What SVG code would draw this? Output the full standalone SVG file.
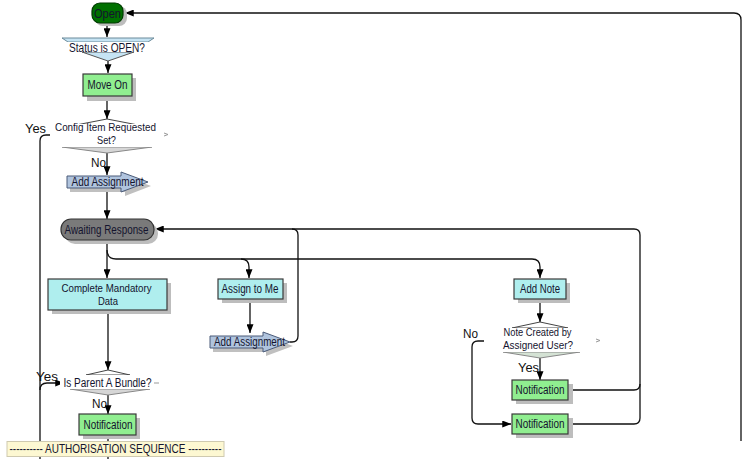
<svg xmlns="http://www.w3.org/2000/svg" width="747" height="459" viewBox="0 0 747 459">
<defs>
<marker id="ah" viewBox="0 0 10 8" refX="10" refY="4" markerWidth="9" markerHeight="7" orient="auto" markerUnits="userSpaceOnUse">
<path d="M0,0 L10,4 L0,8 Z" fill="#000"/>
</marker>
<style>
.bg{fill:#fff}
.c{fill:none;stroke:#111;stroke-width:1.3}
.ca{fill:none;stroke:#111;stroke-width:1.3;marker-end:url(#ah)}
.sh{fill:#bdbdbd}
.box{stroke:#3a3a3a;stroke-width:1.2}
.green{fill:#90ee90}
.turq{fill:#afeeee}
.blue{fill:#b0c4de;stroke:#4a5a78;stroke-width:1}
.t{font-family:"Liberation Sans",Arial,sans-serif;font-size:12px;fill:#14142e;text-anchor:middle}
.t2{font-family:"Liberation Sans",Arial,sans-serif;font-size:11px;fill:#14142e;text-anchor:middle}
.lab{font-family:"Liberation Sans",Arial,sans-serif;font-size:13px;fill:#111;text-anchor:start}
.capT{fill:#fff;stroke:#444;stroke-width:1}
.capB{fill:#d6d6d6;stroke:#888;stroke-width:1}
.mark{fill:none;stroke:#999;stroke-width:1}
</style>
</defs>
<rect x="0" y="0" width="747" height="459" fill="#fff"/>

<g id="connectors">
<path class="ca" d="M107,23 V37"/>
<path class="ca" d="M108,61 V73"/>
<path class="ca" d="M107,96 V119"/>
<path class="ca" d="M107,153 V175"/>
<path class="ca" d="M107,190 V219"/>
<path class="c" d="M50,135 H46 Q40,135 40,141 V459"/>
<path class="ca" d="M40,390 Q40,383 47,383 H64"/>
<path class="ca" d="M107,240 V278"/>
<path class="ca" d="M107,250 Q107,259 116,259 H241 Q249,259 249,267 V278"/>
<path class="ca" d="M241,259 H532 Q540,259 540,267 V278"/>
<path class="ca" d="M108,310 V370"/>
<path class="ca" d="M108,395 V414"/>
<path class="c" d="M108,435 V459"/>
<path class="ca" d="M250,299 V333"/>
<path class="ca" d="M290,342 H292 Q298,342 298,336 V235 Q298,229 292,229 H155"/>
<path class="c" d="M292,229 H634 Q640,229 640,235 V384 Q640,390 634,390 H568"/>
<path class="c" d="M640,384 V418 Q640,424 634,424 H568"/>
<path class="ca" d="M540,299 V322"/>
<path class="ca" d="M540,358 V380"/>
<path class="ca" d="M484,341 H478 Q472,341 472,347 V418 Q472,424 478,424 H511"/>
<path class="ca" d="M741,441 V20 Q741,13 734,13 H125"/>
</g>

<g id="n-open">
<rect class="sh" x="95" y="6" width="32" height="20" rx="8"/>
<rect x="92" y="3" width="31" height="20" rx="8" fill="#007000" stroke="#003a00" stroke-width="1.2"/>
<text class="t" x="107.5" y="17.5" textLength="27" lengthAdjust="spacingAndGlyphs">Open</text>
</g>

<g id="n-status">
<path d="M62,38 H154 L148,42 H68 Z" fill="#c6e4f4" stroke="#6a8a9a" stroke-width="1"/>
<path d="M82,52 H134 L108,61 Z" fill="#c6e4f4" stroke="#555" stroke-width="1"/>
<rect class="bg" x="67" y="42" width="83" height="10"/>
<text class="t" x="107" y="52" textLength="76" lengthAdjust="spacingAndGlyphs">Status is OPEN?</text>
</g>

<g id="n-moveon">
<rect class="sh" x="87" y="78" width="49" height="23"/>
<rect class="box green" x="83" y="74" width="49" height="22"/>
<text class="t" x="107.5" y="88.5" textLength="40" lengthAdjust="spacingAndGlyphs">Move On</text>
</g>

<g id="n-config">
<path class="capT" d="M76,125 L107,119 L138,125 Z"/>
<path class="capB" d="M62,147 H152 L107,153 Z"/>
<rect class="bg" x="52" y="124" width="110" height="23"/>
<path class="mark" d="M164,133 L168,134.5 L164,136"/>
<text class="t2" x="105.5" y="130.5" textLength="101" lengthAdjust="spacingAndGlyphs">Config Item Requested</text>
<text class="t2" x="106.5" y="143.5" textLength="19" lengthAdjust="spacingAndGlyphs">Set?</text>
</g>

<g id="n-addassign1">
<path d="M70,180 H125 V176 L151,186 L125,196 V192 H70 Z" fill="#c0c0c0"/>
<path class="blue" d="M67,176 H121 V172 L148,182 L121,192 V188 H67 Z"/>
<text class="t" x="107.5" y="186" textLength="72" lengthAdjust="spacingAndGlyphs">Add Assignment</text>
</g>

<g id="n-awaiting">
<rect class="sh" x="65" y="223" width="93" height="21" rx="10"/>
<rect x="61" y="219" width="93" height="21" rx="10" fill="#7a7a7a" stroke="#333" stroke-width="1.2"/>
<text class="t" x="106.5" y="233.5" textLength="84" lengthAdjust="spacingAndGlyphs">Awaiting Response</text>
</g>

<g id="n-complete">
<rect class="sh" x="52" y="283" width="119" height="31"/>
<rect class="box turq" x="48" y="279" width="119" height="31"/>
<text class="t2" x="106.5" y="291.5" textLength="90" lengthAdjust="spacingAndGlyphs">Complete Mandatory</text>
<text class="t2" x="108" y="304.5" textLength="20" lengthAdjust="spacingAndGlyphs">Data</text>
</g>

<g id="n-assigntome">
<rect class="sh" x="222" y="283" width="65" height="20"/>
<rect class="box turq" x="218" y="279" width="65" height="20"/>
<text class="t" x="250" y="292.5" textLength="57" lengthAdjust="spacingAndGlyphs">Assign to Me</text>
</g>

<g id="n-addassign2">
<path d="M213,340 H266 V336 L293,346 L266,356 V352 H213 Z" fill="#c0c0c0"/>
<path class="blue" d="M210,336 H263 V332 L290,342 L263,352 V348 H210 Z"/>
<text class="t" x="249.5" y="346" textLength="71" lengthAdjust="spacingAndGlyphs">Add Assignment</text>
</g>

<g id="n-isparent">
<path class="capT" d="M86,375 L108,370 L130,375 Z"/>
<path class="capB" d="M70,389 H150 L108,395 Z"/>
<rect class="bg" x="60" y="375" width="96" height="14"/>
<path class="mark" d="M154,383 H159"/>
<text class="t" x="107.5" y="387" textLength="88" lengthAdjust="spacingAndGlyphs">Is Parent A Bundle?</text>
</g>

<g id="n-notif-left">
<rect class="sh" x="83" y="418" width="57" height="21"/>
<rect class="box green" x="79" y="414" width="57" height="21"/>
<text class="t" x="108" y="429" textLength="49" lengthAdjust="spacingAndGlyphs">Notification</text>
</g>

<g id="n-banner">
<rect x="7" y="441.5" width="217" height="15" fill="#fdf8d2" stroke="#cfcab0" stroke-width="1"/>
<text class="t" x="115.5" y="453" textLength="212" lengthAdjust="spacingAndGlyphs">---------- AUTHORISATION SEQUENCE ----------</text>
</g>

<g id="n-addnote">
<rect class="sh" x="518" y="283" width="52" height="20"/>
<rect class="box turq" x="514" y="279" width="52" height="20"/>
<text class="t" x="540" y="292.5" textLength="40" lengthAdjust="spacingAndGlyphs">Add Note</text>
</g>

<g id="n-notecreated">
<path class="capT" d="M512,328 L540,322 L568,328 Z"/>
<path d="M503,352 H580 L540,358 Z" fill="#d4e2d4" stroke="#888" stroke-width="1"/>
<rect class="bg" x="498" y="328" width="86" height="24"/>
<path class="mark" d="M596,339 L600,340.5 L596,342"/>
<text class="t2" x="537.5" y="336" textLength="68" lengthAdjust="spacingAndGlyphs">Note Created by</text>
<text class="t2" x="538" y="349" textLength="70" lengthAdjust="spacingAndGlyphs">Assigned User?</text>
</g>

<g id="n-notif1">
<rect class="sh" x="516" y="384" width="57" height="20"/>
<rect class="box green" x="512" y="380" width="56" height="20"/>
<text class="t" x="540" y="393.5" textLength="49" lengthAdjust="spacingAndGlyphs">Notification</text>
</g>

<g id="n-notif2">
<rect class="sh" x="516" y="418" width="57" height="20"/>
<rect class="box green" x="512" y="414" width="56" height="20"/>
<text class="t" x="540" y="427.5" textLength="49" lengthAdjust="spacingAndGlyphs">Notification</text>
</g>

<g id="labels">
<text class="lab" x="25" y="133" textLength="21" lengthAdjust="spacingAndGlyphs">Yes</text>
<text class="lab" x="91" y="167" textLength="15" lengthAdjust="spacingAndGlyphs">No</text>
<text class="lab" x="36" y="381" textLength="22" lengthAdjust="spacingAndGlyphs">Yes</text>
<text class="lab" x="92" y="408" textLength="15" lengthAdjust="spacingAndGlyphs">No</text>
<text class="lab" x="463" y="338" textLength="15" lengthAdjust="spacingAndGlyphs">No</text>
<text class="lab" x="518" y="372" textLength="21" lengthAdjust="spacingAndGlyphs">Yes</text>
</g>
</svg>
